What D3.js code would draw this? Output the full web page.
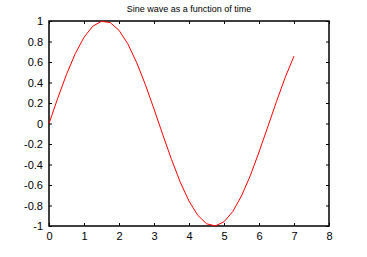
<!DOCTYPE html>
<html>
<head>
<meta charset="utf-8">
<script src="https://cdn.jsdelivr.net/npm/d3@7"></script>
<style>
  body { margin: 0; background: #fff; }
  svg { display: block; }
  text { font-family: "Liberation Sans", Arial, sans-serif; fill: #000; }
</style>
</head>
<body>
<figure id="graph" style="margin:0"></figure>
<script>
// time samples and sine values
const time = [0, 0.25, 0.5, 0.75, 1, 1.25, 1.5, 1.75, 2, 2.25, 2.5, 2.75, 3, 3.25, 3.5,
  3.75, 4, 4.25, 4.5, 4.75, 5, 5.25, 5.5, 5.75, 6, 6.25, 6.5, 6.75, 7];
const amplitude = [0, 0.247, 0.479, 0.682, 0.841, 0.949, 0.997, 0.984, 0.909, 0.778, 0.598,
  0.382, 0.141, -0.108, -0.351, -0.572, -0.757, -0.895, -0.978, -0.999, -0.959, -0.859,
  -0.706, -0.510, -0.279, -0.033, 0.215, 0.451, 0.657];
const xTicks = [0, 1, 2, 3, 4, 5, 6, 7, 8];
const yTicks = [-1, -0.8, -0.6, -0.4, -0.2, 0, 0.2, 0.4, 0.6, 0.8, 1];
const title = 'Sine wave as a function of time';

const W = 367, H = 257;
const mLeft = 49, mRight = 329, mTop = 21, mBottom = 226;

const svg = d3.select('figure#graph')
  .append('svg')
  .attr('width', W)
  .attr('height', H);

const xScale = d3.scaleLinear().domain([0, 8]).range([mLeft, mRight]);
const yScale = d3.scaleLinear().domain([-1, 1]).range([mBottom, mTop]);

// box with inward ticks on all four sides
svg.append('rect')
  .attr('x', mLeft).attr('y', mTop)
  .attr('width', mRight - mLeft).attr('height', mBottom - mTop)
  .attr('fill', 'none').attr('stroke', '#000').attr('stroke-width', 1.5);

const tickLen = 3;
svg.append('g')
  .attr('transform', `translate(0, ${mBottom})`)
  .call(d3.axisBottom(xScale).tickValues(xTicks).tickFormat(d3.format('d'))
    .tickSizeInner(-tickLen).tickSizeOuter(0).tickPadding(6))
  .call(g => g.select('.domain').remove())
  .call(g => g.selectAll('text').attr('font-size', 11));

svg.append('g')
  .attr('transform', `translate(0, ${mTop})`)
  .call(d3.axisTop(xScale).tickValues(xTicks).tickFormat('')
    .tickSizeInner(-tickLen).tickSizeOuter(0))
  .call(g => g.select('.domain').remove());

svg.append('g')
  .attr('transform', `translate(${mLeft}, 0)`)
  .call(d3.axisLeft(yScale).tickValues(yTicks).tickFormat(d => String(+d.toFixed(1)))
    .tickSizeInner(-tickLen).tickSizeOuter(0).tickPadding(6))
  .call(g => g.select('.domain').remove())
  .call(g => g.selectAll('text').attr('font-size', 11));

svg.append('g')
  .attr('transform', `translate(${mRight}, 0)`)
  .call(d3.axisRight(yScale).tickValues(yTicks).tickFormat('')
    .tickSizeInner(-tickLen).tickSizeOuter(0))
  .call(g => g.select('.domain').remove());

svg.selectAll('.tick line').attr('stroke', '#000').attr('stroke-width', 1);

// the sine curve
svg.append('path')
  .datum(time.map((t, i) => [t, amplitude[i]]))
  .attr('fill', 'none')
  .attr('stroke', '#ff0000')
  .attr('stroke-width', 1)
  .attr('d', d3.line()
    .x(d => xScale(d[0]))
    .y(d => yScale(d[1])));

svg.append('text')
  .attr('x', (mLeft + mRight) / 2)
  .attr('y', 12)
  .attr('text-anchor', 'middle')
  .attr('font-size', 9)
  .text(title);
</script>
</body>
</html>
